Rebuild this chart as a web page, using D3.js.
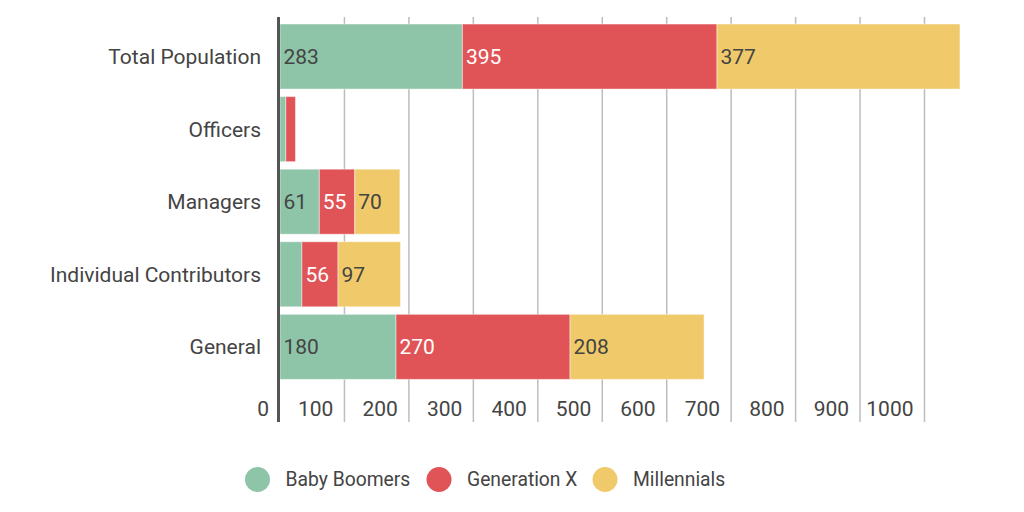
<!DOCTYPE html>
<html>
<head>
<meta charset="utf-8">
<script src="https://cdn.jsdelivr.net/npm/d3@7"></script>
<style>
  * {
    margin: 0;
    padding: 0;
    box-sizing: border-box;
  }
  body {
    background: #ffffff;
    font-family: Roboto, "Noto Sans", Arial, sans-serif;
  }
  .label {
    font-size: 21px;
    fill: #444444;
  }
  .legend-label {
    font-size: 19.3px;
  }
  .grid line {
    stroke: #bdbdbd;
    stroke-width: 1.5px;
  }
</style>
</head>
<body>
<svg id="chart"></svg>
<script>
// Data
const categories = [
  "Total Population",
  "Officers",
  "Managers",
  "Individual Contributors",
  "General",
];
const seriesNames = ["Baby Boomers", "Generation X", "Millennials"];
const babyBoomers = [283, 9, 61, 34, 180];
const generationX = [395, 15, 55, 56, 270];
const millennials = [377, 0, 70, 97, 208];
const tickValues = [0, 100, 200, 300, 400, 500, 600, 700, 800, 900, 1000];

const colors = ["#8ec4a8", "#e05457", "#f0ca6a"];
const labelColors = ["#444444", "#ffffff", "#444444"];

// Chart's dimensions
const width = 1024;
const height = 512;
const marginLeft = 280;
const marginTop = 17;
const plotBottom = 422;

const rows = categories.map((c, i) => ({
  category: c,
  "Baby Boomers": babyBoomers[i],
  "Generation X": generationX[i],
  Millennials: millennials[i],
}));

const stacked = d3.stack().keys(seriesNames)(rows);

const x = d3.scaleLinear().domain([0, 1000]).range([marginLeft, 924.5]);

const y = d3
  .scaleBand()
  .domain(categories)
  .range([20.4, 383])
  .paddingInner(0.104)
  .paddingOuter(0.05);

const svg = d3
  .select("#chart")
  .attr("width", width)
  .attr("height", height)
  .attr("viewBox", [0, 0, width, height]);

// Gridlines
svg
  .append("g")
  .attr("class", "grid")
  .selectAll("line")
  .data(tickValues.slice(1))
  .join("line")
  .attr("x1", (d) => x(d))
  .attr("x2", (d) => x(d))
  .attr("y1", marginTop)
  .attr("y2", plotBottom);

// Tick labels sit to the left of their gridline
svg
  .append("g")
  .selectAll("text")
  .data(tickValues)
  .join("text")
  .attr("class", "label")
  .attr("x", (d) => x(d) - 11)
  .attr("y", 416)
  .attr("text-anchor", "end")
  .text((d) => d);

// Bars
const layer = svg
  .append("g")
  .selectAll("g")
  .data(stacked)
  .join("g")
  .attr("fill", (d, i) => colors[i]);

layer
  .selectAll("rect")
  .data((d) => d)
  .join("rect")
  .attr("x", (d) => x(d[0]))
  .attr("y", (d) => y(d.data.category))
  .attr("width", (d) => x(d[1]) - x(d[0]))
  .attr("height", y.bandwidth())
  .attr("stroke", "#ffffff")
  .attr("stroke-opacity", 0.45)
  .attr("stroke-width", 1);

// Value labels, only where they fit
stacked.forEach((s, si) => {
  svg
    .append("g")
    .selectAll("text")
    .data(s)
    .join("text")
    .attr("class", "label")
    .attr("x", (d) => x(d[0]) + 3.5)
    .attr("y", (d) => y(d.data.category) + y.bandwidth() / 2 + 7.5)
    .style("fill", labelColors[si])
    .text((d) => d[1] - d[0])
    .each(function (d) {
      const w = x(d[1]) - x(d[0]);
      if (d[1] - d[0] === 0 || this.getComputedTextLength() + 6 > w) {
        d3.select(this).remove();
      }
    });
});

// Category labels
svg
  .append("g")
  .selectAll("text")
  .data(categories)
  .join("text")
  .attr("class", "label")
  .attr("x", 261)
  .attr("y", (d) => y(d) + y.bandwidth() / 2 + 7.5)
  .attr("text-anchor", "end")
  .text((d) => d);

// Y axis line
svg
  .append("line")
  .attr("x1", marginLeft - 1.5)
  .attr("x2", marginLeft - 1.5)
  .attr("y1", marginTop)
  .attr("y2", plotBottom)
  .attr("stroke", "#555555")
  .attr("stroke-width", 3);

// Legend
const legendX = [257.5, 439, 605];
const legend = svg
  .append("g")
  .selectAll("g")
  .data(seriesNames)
  .join("g")
  .attr("transform", (d, i) => `translate(${legendX[i]}, 479.5)`);

legend
  .append("circle")
  .attr("r", 12.5)
  .attr("fill", (d, i) => colors[i]);

legend
  .append("text")
  .attr("class", "label legend-label")
  .attr("x", 28)
  .attr("y", 6.5)
  .text((d) => d);
</script>
</body>
</html>
